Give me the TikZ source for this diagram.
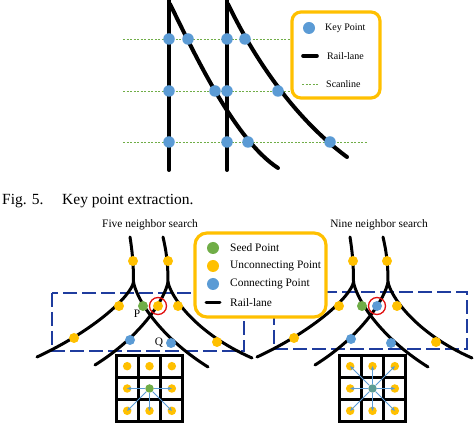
\documentclass[tikz,border=0pt]{standalone}
\usepackage{fontspec}
\setmainfont{Liberation Serif}
\usetikzlibrary{arrows.meta}
\definecolor{kblue}{HTML}{5B9BD5}
\definecolor{korange}{HTML}{FFC000}
\definecolor{kgreen}{HTML}{70AD47}
\definecolor{dblue}{HTML}{1F3C9E}
\definecolor{kteal}{HTML}{5E9E96}
\definecolor{kred}{HTML}{E01010}
\tikzset{
  rail/.style={line width=4pt, line cap=round},
  railb/.style={line width=3pt, line cap=round},
  scan/.style={kgreen, line width=0.9pt, dash pattern=on 2pt off 1.5pt},
  kp/.style={circle, fill=kblue, inner sep=0pt, minimum size=11.5pt},
  pt/.style={circle, fill=#1, inner sep=0pt, minimum size=10pt},
  gpt/.style={circle, fill=#1, inner sep=0pt, minimum size=8.5pt},
  lpt/.style={circle, fill=#1, inner sep=0pt, minimum size=12pt},
  legbox/.style={draw=korange, fill=white, rounded corners=#1, line width=3.2pt},
  searchbox/.style={draw=dblue, line width=2.3pt, dash pattern=on 14pt off 5pt},
  cell/.style={draw=black, line width=3pt, minimum size=22.33pt, inner sep=0pt},
  arr/.style={kblue, line width=0.9pt, -{Stealth[length=4pt,width=3.5pt]}},
  redring/.style={draw=kred, line width=1.3pt, circle, inner sep=0pt, minimum size=17pt},
  lab/.style={font=\fontsize{11.4}{13}\selectfont, inner sep=0pt},
  leg/.style={font=\fontsize{10}{12}\selectfont, anchor=west, inner sep=0pt},
  captxt/.style={font=\fontsize{15.5}{18}\selectfont, anchor=west, inner sep=0pt}
}
\newcommand\myrails{%
  \draw[railb] (130,237) .. controls (132,250) and (133.5,262) .. (133.5,282)
     .. controls (131,296) and (95,330) .. (37,357);
  \draw[railb] (133.5,282) .. controls (136,297) and (157,335) .. (208,367);
  \draw[railb] (163,237) .. controls (166,250) and (168,262) .. (168,282)
     .. controls (165.5,297) and (143,335) .. (95,365);
  \draw[railb] (168,282) .. controls (170.5,296) and (195,333) .. (252,358);
}
\begin{document}
\begin{tikzpicture}[x=1pt,y=-1pt]
\useasboundingbox (0,0) rectangle (474,427);
% ---------- top figure ----------
\draw[scan] (123,39) -- (292,39);
\draw[scan] (123,91) -- (292,91);
\draw[scan] (123,142) -- (367,142);
\draw[rail] (169,-3) -- (169,170);
\draw[rail] (227,-3) -- (227,170);
\draw[rail] (170,4) .. controls (195,55) and (235,140) .. (278,168);
\draw[rail] (228,4) .. controls (250,50) and (290,115) .. (347,157);
\node[kp] (k1) at (169,39) {};
\node[kp] (k2) at (188,39) {};
\node[kp] (k3) at (227,39) {};
\node[kp] (k4) at (245,39) {};
\node[kp] (k5) at (169,91) {};
\node[kp] (k6) at (215,91) {};
\node[kp] (k7) at (227,91) {};
\node[kp] (k8) at (278,91) {};
\node[kp] (k9) at (169,142) {};
\node[kp] (k10) at (227,142) {};
\node[kp] (k11) at (248,142) {};
\node[kp] (k12) at (330,142) {};
\node[legbox=9pt, minimum width=88pt, minimum height=86pt] (leg1) at (336,55) {};
\node[lpt=kblue] (leg1dot) at (309,28) {};
\node[leg] (leg1t1) at (325,28) {Key Point};
\draw[rail, line width=3.6pt] (303,56) -- (317,56);
\node[leg] (leg1t2) at (327,56) {Rail-lane};
\draw[scan] (302,84) -- (318,84);
\node[leg] (leg1t3) at (326,84) {Scanline};
% ---------- caption ----------
\node[captxt] (fig) at (2,201) {Fig. 5.};
\node[captxt] (figt) at (62,201) {Key point extraction.};
% ---------- bottom figures ----------
\node[lab] (t5) at (150,225) {Five neighbor search};
\node[lab] (t9) at (379,225) {Nine neighbor search};
\draw[searchbox] (52,293) rectangle (244,351);
\draw[searchbox] (274,292) rectangle (467,349);
\myrails
\begin{scope}[xshift=220pt]
\myrails
\end{scope}
\node[legbox=12pt, minimum width=131pt, minimum height=84pt] (leg2) at (260.5,275) {};
\node[lpt=kgreen] (ld1) at (213,248) {};
\node[lpt=korange] (ld2) at (213,266) {};
\node[lpt=kblue] (ld3) at (213,284) {};
\draw[railb] (206,303) -- (220,303);
\node[lab, anchor=west] (lt1) at (230,248) {Seed Point};
\node[lab, anchor=west] (lt2) at (230,266) {Unconnecting Point};
\node[lab, anchor=west] (lt3) at (230,284) {Connecting Point};
\node[lab, anchor=west] (lt4) at (230,303) {Rail-lane};
% left figure points
\node[pt=korange] (a1) at (133,261) {};
\node[pt=korange] (a2) at (168,261) {};
\node[pt=korange] (a3) at (119,306) {};
\node[pt=kgreen] (aP) at (143,306) {};
\node[pt=korange] (a4) at (158,306) {};
\node[redring] (ring1) at (158,306) {};
\node[pt=korange] (a5) at (178,306) {};
\node[pt=korange] (a6) at (74,338) {};
\node[pt=kblue] (a7) at (130,340) {};
\node[pt=kblue] (aQ) at (171,343) {};
\node[pt=korange] (a8) at (217,342) {};
\node[lab] (labP) at (137,314) {P};
\node[lab] (labQ) at (159,343) {Q};
% right figure points
\node[pt=korange] (b1) at (353,261) {};
\node[pt=korange] (b2) at (387,261) {};
\node[pt=korange] (b3) at (339,306) {};
\node[pt=kgreen] (bP) at (362,306) {};
\node[pt=kblue] (b4) at (377,306) {};
\node[redring] (ring2) at (377,306) {};
\node[pt=korange] (b5) at (397,306) {};
\node[pt=korange] (b6) at (294,338) {};
\node[pt=kblue] (b7) at (351,339) {};
\node[pt=kblue] (b8) at (391,343) {};
\node[pt=korange] (b9) at (436,342) {};
% left grid
\foreach \c/\x in {1/127.17,2/149.5,3/171.83}{
  \foreach \r/\y in {1/366.17,2/388.5,3/410.83}{
    \node[cell] (Lc\r\c) at (\x,\y) {};
  }
}
\foreach \r/\c in {1/1,1/2,1/3,2/1,2/3,3/1,3/2,3/3}{
  \node[gpt=korange] (Ld\r\c) at (Lc\r\c) {};
}
\node[gpt=kgreen] (Ld22) at (Lc22) {};
\foreach \r/\c in {2/1,2/3,3/1,3/2,3/3}{
  \draw[arr] (Ld22) -- (Ld\r\c.center);
}
% right grid
\foreach \c/\x in {1/350.17,2/372.5,3/394.83}{
  \foreach \r/\y in {1/366.17,2/388.5,3/410.83}{
    \node[cell] (Rc\r\c) at (\x,\y) {};
  }
}
\foreach \r/\c in {1/1,1/2,1/3,2/1,2/3,3/1,3/2,3/3}{
  \node[gpt=korange] (Rd\r\c) at (Rc\r\c) {};
}
\node[gpt=kteal] (Rd22) at (Rc22) {};
\foreach \r/\c in {1/1,1/2,1/3,2/1,2/3,3/1,3/2,3/3}{
  \draw[arr] (Rd22) -- (Rd\r\c.center);
}
\end{tikzpicture}
\end{document}
